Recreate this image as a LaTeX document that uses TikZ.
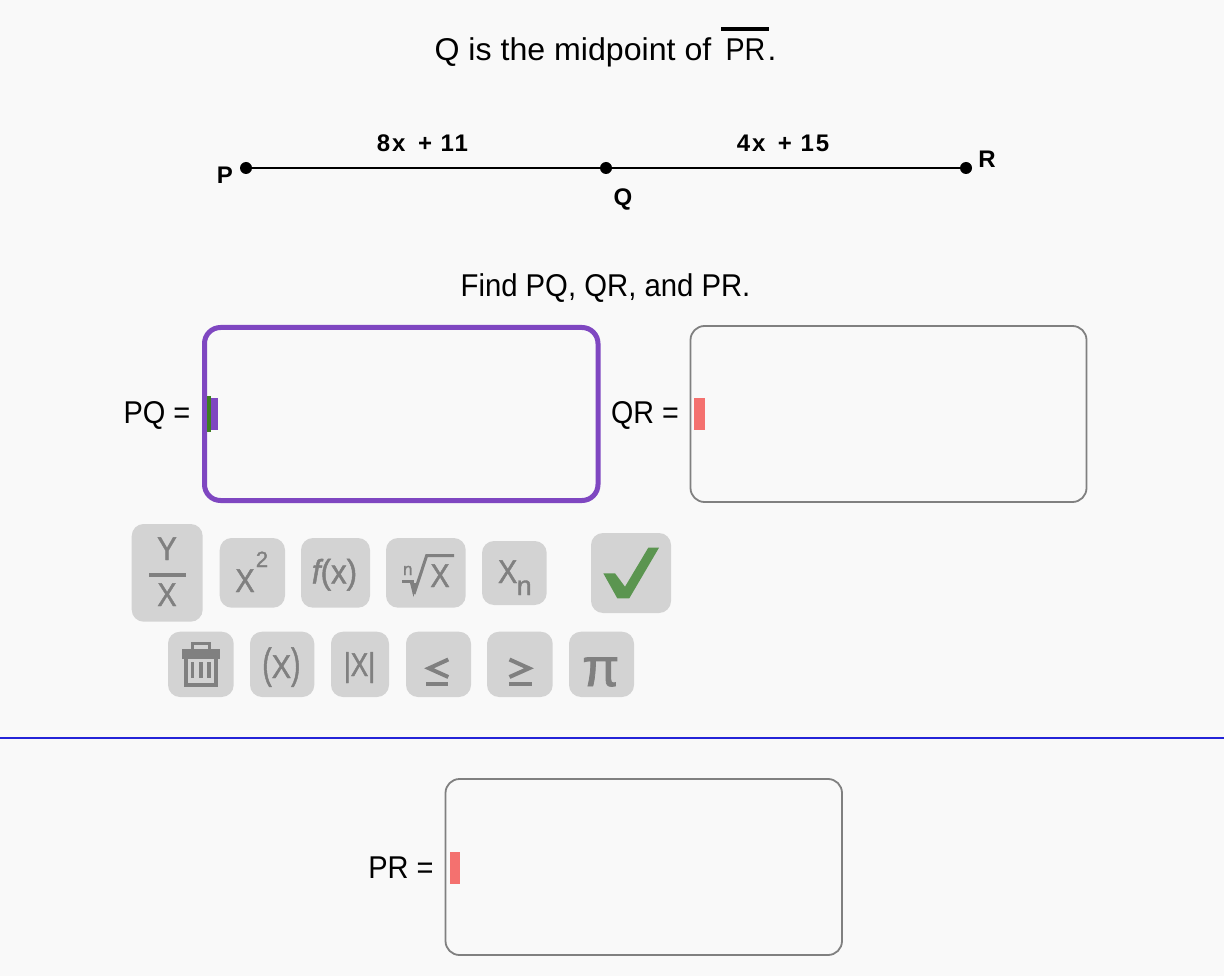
\documentclass[tikz,border=0pt]{standalone}
\usepackage{fontspec}
\setmainfont{Liberation Sans}
\definecolor{bgc}{HTML}{F9F9F9}
\definecolor{btnc}{HTML}{D3D3D3}
\definecolor{glyph}{HTML}{808080}
\definecolor{okgreen}{HTML}{5B9550}
\definecolor{purp}{HTML}{7F47C1}
\definecolor{curs}{HTML}{F4716F}
\definecolor{curg}{HTML}{3E7F22}
\definecolor{rulec}{HTML}{2424D8}
\newcommand{\nrw}[2][.85]{\scalebox{#1}[1]{#2}}
\tikzset{
  x=1pt,y=-1pt,
  btn/.style={fill=btnc,draw=none,rounded corners=12pt},
  gl/.style={text=glyph,inner sep=0pt,anchor=base,font=\fontsize{#1}{#1}\selectfont\addfontfeatures{FakeBold=1.4}},
  gline/.style={draw=glyph,line width=3pt},
  txt/.style={inner sep=0pt,anchor=base,font=\fontsize{31.5}{32}\selectfont},
  lab/.style={inner sep=0pt,anchor=base,font=\fontsize{24}{24}\selectfont\bfseries},
  dot/.style={circle,fill=black,inner sep=0pt,minimum size=12pt},
  box/.style={draw=glyph,line width=1.8pt,rounded corners=14pt,fill=none},
}
\begin{document}
\begin{tikzpicture}
\useasboundingbox (0,0) rectangle (1224,976);
\fill[bgc] (0,0) rectangle (1224,976);
% heading
\node[txt] (title) at (573,61) {\nrw[1.02]{Q is the midpoint of}};
\node[txt] (pr) at (745.5,61) {\nrw[.91]{PR}};
\node[txt] (dot) at (772,61) {.};
\fill[black] (721,26.7) rectangle (769,31.3);
% segment
\node[dot] (P) at (246,168) {};
\node[dot] (Q) at (606,168) {};
\node[dot] (R) at (966,168) {};
\draw[line width=2pt] (P) -- (Q) -- (R);
\node[lab] (a) at (422.5,152) {\addfontfeatures{LetterSpace=8}8x\hspace{4pt} + 11};
\node[lab] (b) at (783,152) {\addfontfeatures{LetterSpace=8}4x\hspace{4pt} + 15};
\node[lab] (lp) at (225,184) {P};
\node[lab] (lq) at (623,206) {Q};
\node[lab] (lr) at (987,168) {R};
\node[txt] (find) at (605.5,297) {\nrw[.93]{Find PQ, QR, and PR.}};
% inputs
\draw[draw=purp,line width=5pt,rounded corners=16pt] (204.5,327.5) rectangle (598,500.5);
\draw[box] (690.5,326) rectangle (1086.5,502);
\draw[box] (445.5,779) rectangle (842,955);
\node[txt] (pq) at (157,423) {\nrw[.92]{PQ =}};
\node[txt] (qr) at (645,423) {\nrw[.91]{QR =}};
\node[txt] (prl) at (401,878) {\nrw[.92]{PR =}};
\fill[purp] (211,398) rectangle (217.5,430);
\fill[curg] (207,396) rectangle (211.3,431.7);
\fill[curs] (694,398) rectangle (705,430);
\fill[curs] (450,852) rectangle (460,884);
% buttons
\fill[btn] (131.7,524) rectangle (202.7,621.7);
\fill[btn] (219.7,538) rectangle (285,607.7);
\fill[btn] (301,538) rectangle (370,607.7);
\fill[btn] (386,538) rectangle (465.7,607.7);
\fill[btn] (482,541) rectangle (546.7,605);
\fill[btn] (591,533) rectangle (671,613);
\fill[btn] (168,631.7) rectangle (233.7,697);
\fill[btn] (250,631.7) rectangle (314.3,697);
\fill[btn] (331,631.7) rectangle (389,697);
\fill[btn] (406,631.7) rectangle (471,697);
\fill[btn] (487,631.7) rectangle (552.7,697);
\fill[btn] (569,631.7) rectangle (634,697);
% Y/X
\node[gl=33] (y) at (167,560) {\nrw[.9]{Y}};
\fill[glyph] (149.3,572.7) rectangle (185.7,576.7);
\node[gl=33] (xd) at (167,606) {\nrw[.88]{X}};
% x^2
\node[gl=33] (x2) at (245,592) {\nrw[.88]{X}};
\node[gl=22] (x2s) at (262,567) {2};
% f(x)
\node[gl=34] (fx) at (334.5,583.5) {\nrw[.92]{{\itshape\addfontfeatures{FakeBold=1.4}f}(x)}};
% root
\node[gl=17] (rn) at (407.8,575) {n};
\fill[glyph] (402,580) rectangle (413.5,583);
\fill[glyph] (410,583) -- (416.5,583) -- (413.5,597) -- cycle;
\draw[gline,line join=miter] (414,594) -- (426.7,555.5) -- (454,555.5);
\node[gl=33] (rx) at (440,587) {\nrw[.88]{X}};
% x_n
\node[gl=33] (xn) at (507.7,583) {\nrw[.88]{X}};
\node[gl=27] (xns) at (524.2,595) {n};
% check
\fill[okgreen] (603.3,573.3) -- (615,573.3) -- (625,586.7) -- (648.3,547.7) -- (659,547.7) -- (629.3,598.3) -- (617.3,598.3) -- cycle;
% trash
\draw[glyph,line width=3pt] (192.2,648.5) -- (192.2,643.5) -- (209.2,643.5) -- (209.2,648.5);
\fill[glyph] (181.7,649.3) rectangle (220,659);
\draw[glyph,line width=4pt] (186,659) -- (186,684.7) -- (215.7,684.7) -- (215.7,659);
\fill[glyph] (190.7,661.7) rectangle (194.4,678);
\fill[glyph] (199.1,661.7) rectangle (202.8,678);
\fill[glyph] (207.4,661.7) rectangle (211.1,678);
% (X)
\node[gl=33] (px) at (281.4,678) {\scalebox{.85}[1.28]{(}\nrw[.88]{X}\scalebox{.85}[1.28]{)}};
% |X|
\node[gl=33] (ax) at (359.5,676) {\nrw[.8]{|X|}};
% <= >=
\draw[glyph,line width=4pt,miter limit=10] (448.3,659.5) -- (429,668.3) -- (448.3,677);
\fill[glyph] (426,682) rectangle (448.3,686);
\draw[glyph,line width=4pt,miter limit=10] (509.5,659.5) -- (529,668.3) -- (509.5,677);
\fill[glyph] (509,682) rectangle (531.7,686);
% pi
\node[gl=54] (pi) at (600.7,686) {π};
% rule
\draw[rulec,line width=2pt] (0,737.5) -- (1224,737.5);
\end{tikzpicture}
\end{document}
